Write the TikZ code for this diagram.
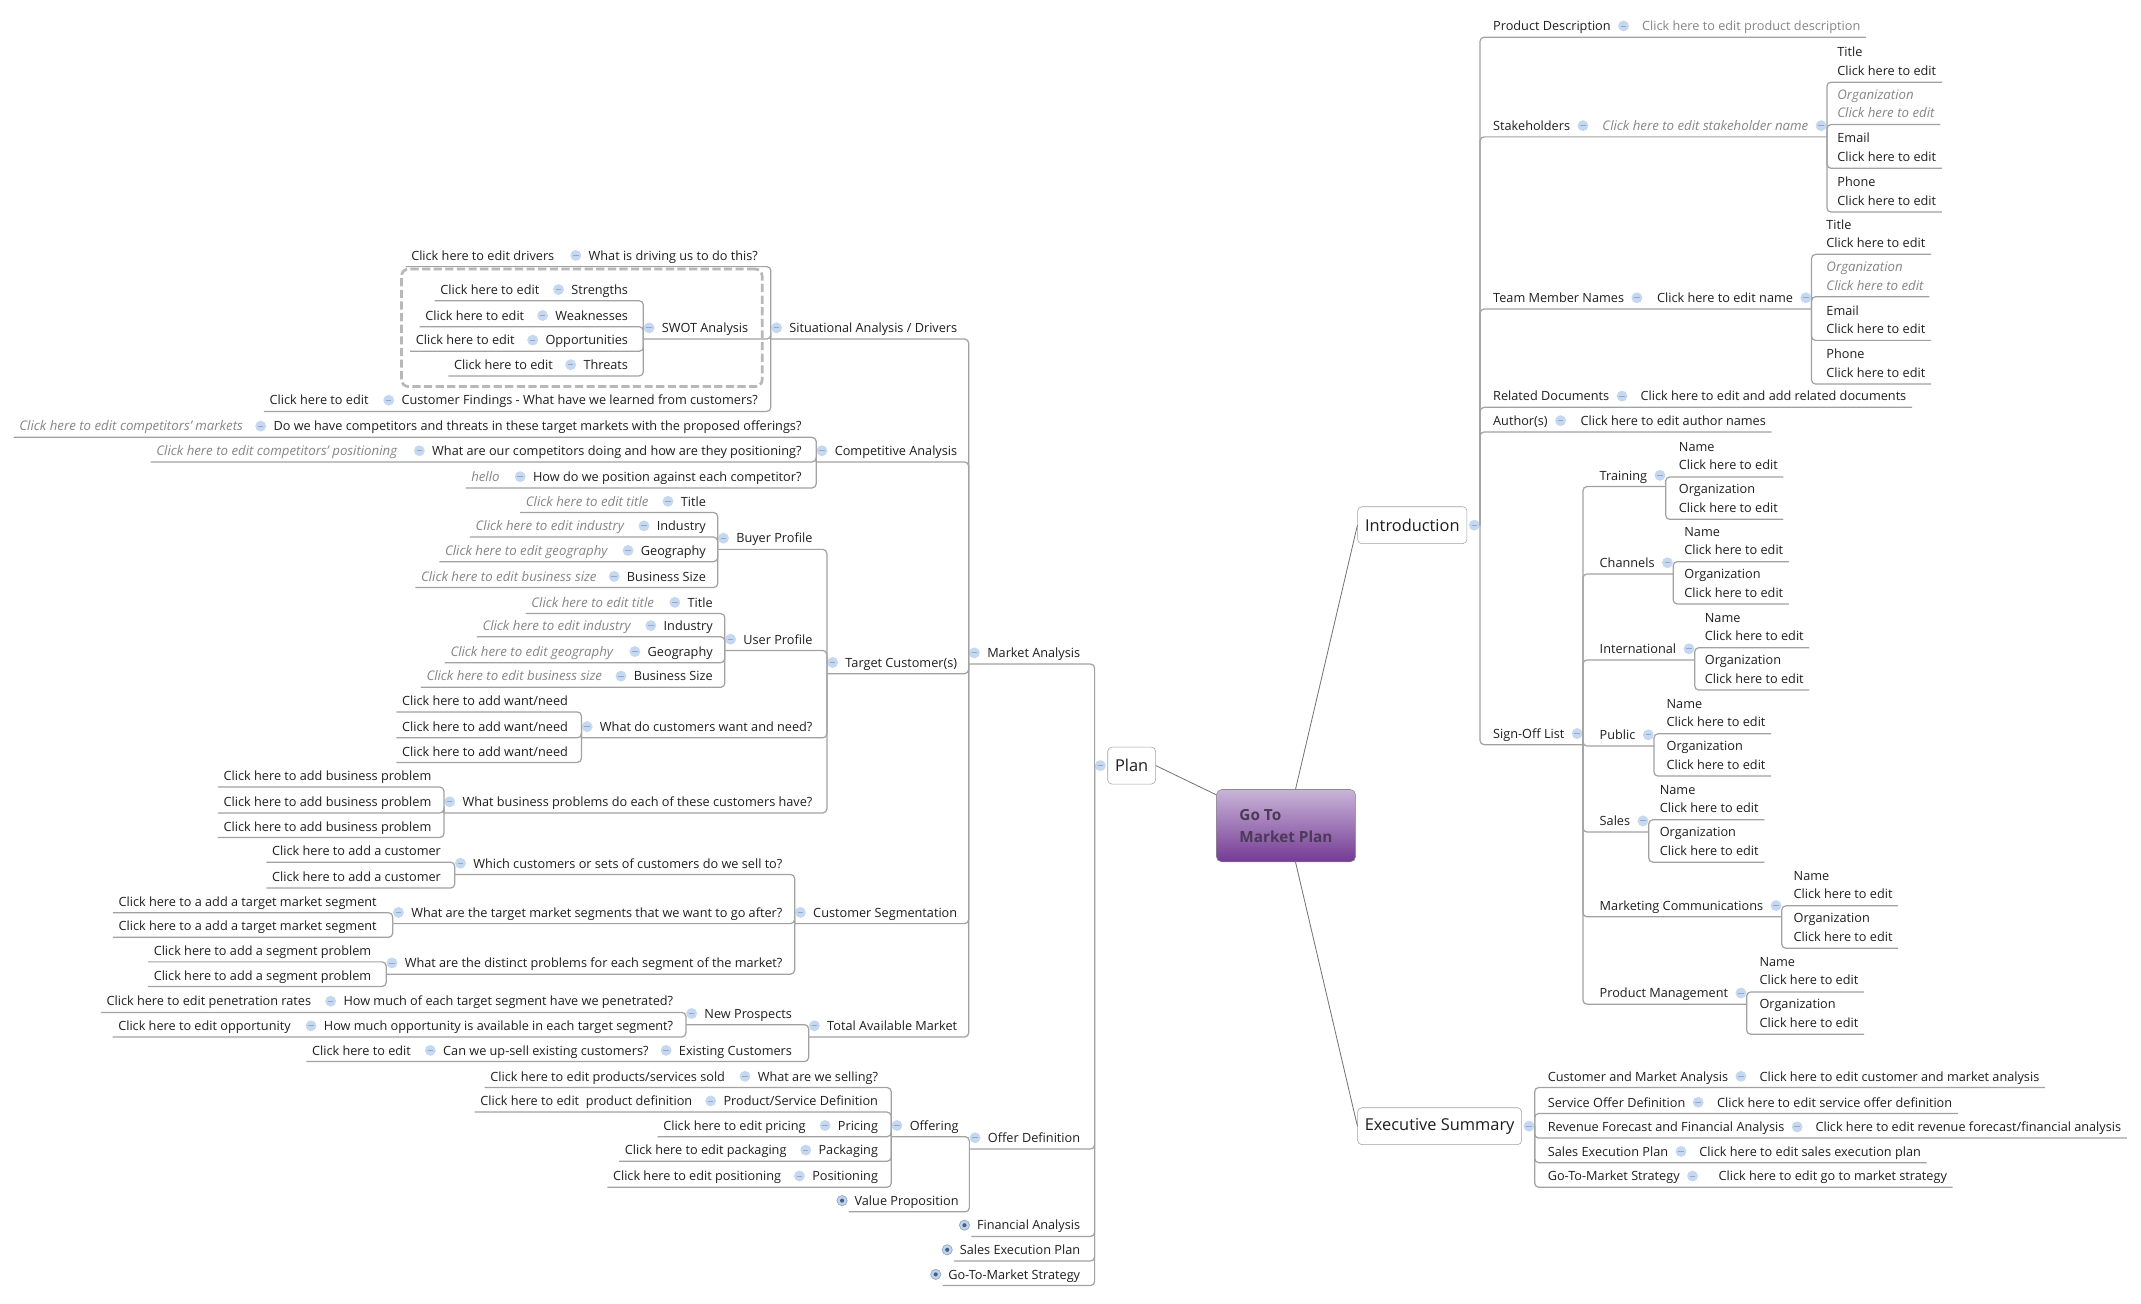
\documentclass[tikz,border=0pt]{standalone}
\usepackage{fontspec}
\setmainfont{Open Sans}
\definecolor{inkc}{HTML}{1E1E1E}
\definecolor{hintc}{HTML}{858585}
\definecolor{branchc}{HTML}{A2A2A2}
\definecolor{foldc}{HTML}{C6D8F0}
\definecolor{foldd}{HTML}{8FA9CF}
\definecolor{rootc}{HTML}{4B3A58}
\definecolor{rootup}{HTML}{C9B5D8}
\definecolor{rootdn}{HTML}{743A94}
\definecolor{plusc}{HTML}{C3D2E4}
\definecolor{plusd}{HTML}{3F5F8F}
\tikzset{
  leaf/.style={font=\fontsize{9.3}{11}\selectfont,text=inkc,inner xsep=4,inner ysep=3,text height=8.5,text depth=1.5},
  lnode/.style={leaf,anchor=east},
  rnode/.style={leaf,anchor=west},
  hint/.style={font=\fontsize{9.7}{11}\selectfont\itshape,text=hintc},
  pale/.style={text=hintc},
  pair/.style={font=\fontsize{9.3}{13.6}\selectfont,text=inkc,anchor=west,align=left,inner xsep=4,inner ysep=0,minimum height=30},
  pairhint/.style={pair,font=\fontsize{9.7}{13.6}\selectfont\itshape,text=hintc},
  box/.style={draw=branchc,fill=white,rounded corners=3,font=\fontsize{12}{14}\selectfont,text=inkc,inner sep=0,minimum height=27},
  fold/.style={circle,fill=foldc,inner sep=0,minimum size=8,label distance=1,
    path picture={\draw[foldd,line width=.6] ([xshift=-2]path picture bounding box.center)--([xshift=2]path picture bounding box.center);}},
  plus/.style={circle,fill=plusc,draw=foldd,line width=.5,inner sep=0,minimum size=7.5,label distance=1,
    path picture={\fill[plusd] (path picture bounding box.center) circle (1.5);}},
  foldl/.style={label={[fold,name=#1]left:{}}},
  foldr/.style={label={[fold,name=#1]right:{}}},
  plusl/.style={label={[plus,name=#1]left:{}}},
  branch/.style={draw=branchc,line width=.9,rounded corners=3},
  spoke/.style={draw=black!55,line width=.6},
  dashbox/.style={draw=black!28,line width=2,rounded corners=5,inner sep=0,minimum width=264,minimum height=86,dash pattern=on 6 off 2.5},
}
\newcommand{\busl}[1]{\coordinate (#1b) at (#1-i.west |- #1.south);}
\newcommand{\busr}[1]{\coordinate (#1b) at (#1-i.east |- #1.south);}
\begin{document}
\begin{tikzpicture}[x=1pt,y=-1pt]
  \useasboundingbox (0,0) rectangle (1567.5,954);

  % centre
  \node[rounded corners=4,draw=black!45,top color=rootup,bottom color=rootdn,minimum width=102,minimum height=53,inner sep=0,
    font=\fontsize{11.2}{16}\selectfont\bfseries,text=rootc,align=left] at (941.5,604.5) (root) {Go To\\Market Plan};
  \node[box,minimum width=35,foldl=plan-i] at (828.5,560.5) (plan) {Plan};
  \node[box,minimum width=80,foldr=intro-i] at (1034,384.5) (intro) {Introduction};
  \node[box,minimum width=120,foldr=exec-i] at (1054,824.5) (exec) {Executive Summary};
  \draw[spoke] ([yshift=-4]root.north west) -- (plan.east);
  \draw[spoke] ([xshift=7]root.north) -- (intro.west);
  \draw[spoke] ([xshift=7]root.south) -- (exec.west);
  \coordinate (planb) at (plan-i.west |- plan.center);
  \coordinate (introb) at (intro-i.east |- intro.center);
  \coordinate (execb) at (exec-i.east |- exec.center);

  % plan side
  \node[lnode,foldl=mkt-i] at (795,478) (mkt) {Market Analysis};
  \node[lnode,foldl=off-i] at (795,833) (off) {Offer Definition};
  \node[lnode,plusl=fin-i] at (795,897) (fin) {Financial Analysis};
  \node[lnode,plusl=salesp-i] at (795,915) (salesp) {Sales Execution Plan};
  \node[lnode,plusl=gtm-i] at (795,933) (gtm) {Go-To-Market Strategy};
  \busl{mkt} \busl{off}
  \foreach \k in {mktb,offb,fin.south west,salesp.south west,gtm.south west}
    \draw[branch] (planb) |- (\k);

  \node[lnode,foldl=sit-i] at (705,240) (sit) {Situational Analysis / Drivers};
  \node[lnode,foldl=comp-i] at (705,330) (comp) {Competitive Analysis};
  \node[lnode,foldl=target-i] at (705,485) (target) {Target Customer(s)};
  \node[lnode,foldl=seg-i] at (705,668) (seg) {Customer Segmentation};
  \node[lnode,foldl=tam-i] at (705,751) (tam) {Total Available Market};
  \busl{sit} \busl{comp} \busl{target} \busl{seg} \busl{tam}
  \foreach \k in {sitb,compb,targetb,segb,tamb}
    \draw[branch] (mktb) |- (\k);

  % situational analysis
  \node[lnode,foldl=drv-i] at (559,187) (drv) {What is driving us to do this?};
  \node[lnode] at (410,187) (kdrv) {Click here to edit drivers};
  \node[lnode,foldl=swot-i] at (552,240) (swot) {SWOT Analysis};
  \node[lnode,foldl=cust-i] at (559,293) (cust) {Customer Findings - What have we learned from customers?};
  \node[lnode] at (274,293) (kcust) {Click here to edit};
  \busl{swot}
  \foreach \k in {kdrv.south west,swotb,kcust.south west}
    \draw[branch] (sitb) |- (\k);
  \node[dashbox] at (426,240) (swotframe) {};
  \node[lnode,foldl=str-i] at (464,212) (str) {Strengths};
  \node[lnode] at (399,212) (kstr) {Click here to edit};
  \node[lnode,foldl=weak-i] at (464,231) (weak) {Weaknesses};
  \node[lnode] at (388,231) (kweak) {Click here to edit};
  \node[lnode,foldl=opp-i] at (464,249) (opp) {Opportunities};
  \node[lnode] at (381,249) (kopp) {Click here to edit};
  \node[lnode,foldl=thr-i] at (464,267) (thr) {Threats};
  \node[lnode] at (409,267) (kthr) {Click here to edit};
  \foreach \k in {kstr,kweak,kopp,kthr}
    \draw[branch] (swotb) |- (\k.south west);

  % competitive analysis
  \node[lnode,foldl=cm-i] at (591,312) (cm) {Do we have competitors and threats in these target markets with the proposed offerings?};
  \node[lnode,hint] at (182,312) (kcm) {Click here to edit competitors' markets};
  \node[lnode,foldl=cp-i] at (591,330) (cp) {What are our competitors doing and how are they positioning?};
  \node[lnode,hint] at (295,330) (kcp) {Click here to edit competitors' positioning};
  \node[lnode,foldl=ca-i] at (591,349) (ca) {How do we position against each competitor?};
  \node[lnode,hint] at (370,349) (kca) {hello};
  \foreach \k in {kcm,kcp,kca}
    \draw[branch] (compb) |- (\k.south west);

  % target customers
  \node[lnode,foldl=buyer-i] at (599,394) (buyer) {Buyer Profile};
  \node[lnode,foldl=user-i] at (599,468) (user) {User Profile};
  \node[lnode,foldl=want-i] at (599,532) (want) {What do customers want and need?};
  \node[lnode,foldl=biz-i] at (599,587) (biz) {What business problems do each of these customers have?};
  \busl{buyer} \busl{user} \busl{want} \busl{biz}
  \foreach \k in {buyerb,userb,wantb,bizb}
    \draw[branch] (targetb) |- (\k);

  \node[lnode,foldl=bt-i] at (521,367) (bt) {Title};
  \node[lnode,hint] at (479,367) (kbt) {Click here to edit title};
  \node[lnode,foldl=bi-i] at (521,385) (bi) {Industry};
  \node[lnode,hint] at (461,385) (kbi) {Click here to edit industry};
  \node[lnode,foldl=bg-i] at (521,403) (bg) {Geography};
  \node[lnode,hint] at (449,403) (kbg) {Click here to edit geography};
  \node[lnode,foldl=bs-i] at (521,422) (bs) {Business Size};
  \node[lnode,hint] at (441,422) (kbs) {Click here to edit business size};
  \foreach \k in {kbt,kbi,kbg,kbs}
    \draw[branch] (buyerb) |- (\k.south west);

  \node[lnode,foldl=ut-i] at (526,441) (ut) {Title};
  \node[lnode,hint] at (483,441) (kut) {Click here to edit title};
  \node[lnode,foldl=ui-i] at (526,458) (ui) {Industry};
  \node[lnode,hint] at (466,458) (kui) {Click here to edit industry};
  \node[lnode,foldl=ug-i] at (526,477) (ug) {Geography};
  \node[lnode,hint] at (453,477) (kug) {Click here to edit geography};
  \node[lnode,foldl=us-i] at (526,495) (us) {Business Size};
  \node[lnode,hint] at (445,495) (kus) {Click here to edit business size};
  \foreach \k in {kut,kui,kug,kus}
    \draw[branch] (userb) |- (\k.south west);

  \node[lnode] at (420,513) (w1) {Click here to add want/need};
  \node[lnode] at (420,532) (w2) {Click here to add want/need};
  \node[lnode] at (420,550) (w3) {Click here to add want/need};
  \foreach \k in {w1,w2,w3}
    \draw[branch] (wantb) |- (\k.south west);

  \node[lnode] at (320,568) (p1) {Click here to add business problem};
  \node[lnode] at (320,587) (p2) {Click here to add business problem};
  \node[lnode] at (320,605) (p3) {Click here to add business problem};
  \foreach \k in {p1,p2,p3}
    \draw[branch] (bizb) |- (\k.south west);

  % customer segmentation
  \node[lnode,foldl=which-i] at (577,632) (which) {Which customers or sets of customers do we sell to?};
  \node[lnode,foldl=mseg-i] at (577,668) (mseg) {What are the target market segments that we want to go after?};
  \node[lnode,foldl=dist-i] at (577,705) (dist) {What are the distinct problems for each segment of the market?};
  \busl{which} \busl{mseg} \busl{dist}
  \foreach \k in {whichb,msegb,distb}
    \draw[branch] (segb) |- (\k);
  \node[lnode] at (327,623) (c1) {Click here to add a customer};
  \node[lnode] at (327,642) (c2) {Click here to add a customer};
  \node[lnode] at (280,660) (m1) {Click here to a add a target market segment};
  \node[lnode] at (280,678) (m2) {Click here to a add a target market segment};
  \node[lnode] at (276,696) (d1) {Click here to add a segment problem};
  \node[lnode] at (276,714) (d2) {Click here to add a segment problem};
  \foreach \k in {c1,c2}
    \draw[branch] (whichb) |- (\k.south west);
  \foreach \k in {m1,m2}
    \draw[branch] (msegb) |- (\k.south west);
  \foreach \k in {d1,d2}
    \draw[branch] (distb) |- (\k.south west);

  % total available market
  \node[lnode,foldl=newp-i] at (584,742) (newp) {New Prospects};
  \node[lnode,foldl=exist-i] at (584,769) (exist) {Existing Customers};
  \node[lnode,foldl=upsell-i] at (479,769) (upsell) {Can we up-sell existing customers?};
  \node[lnode] at (305,769) (kupsell) {Click here to edit};
  \busl{newp}
  \foreach \k in {newpb,kupsell.south west}
    \draw[branch] (tamb) |- (\k);
  \node[lnode,foldl=pen-i] at (497,733) (pen) {How much of each target segment have we penetrated?};
  \node[lnode] at (232,733) (kpen) {Click here to edit penetration rates};
  \node[lnode,foldl=oppn-i] at (497,751) (oppn) {How much opportunity is available in each target segment?};
  \node[lnode] at (217,751) (koppn) {Click here to edit opportunity};
  \foreach \k in {kpen,koppn}
    \draw[branch] (newpb) |- (\k.south west);

  % offer definition
  \node[lnode,foldl=offer-i] at (706,824) (offer) {Offering};
  \node[lnode,plusl=valp-i] at (706,879) (valp) {Value Proposition};
  \busl{offer}
  \foreach \k in {offerb,valp.south west}
    \draw[branch] (offb) |- (\k);
  \node[lnode,foldl=os-i] at (647,788) (os) {What are we selling?};
  \node[lnode] at (535,788) (kos) {Click here to edit products/services sold};
  \node[lnode,foldl=od-i] at (647,806) (od) {Product/Service Definition};
  \node[lnode] at (511,806) (kod) {Click here to edit\ \ product definition};
  \node[lnode,foldl=opr-i] at (647,824) (opr) {Pricing};
  \node[lnode] at (594,824) (kopr) {Click here to edit pricing};
  \node[lnode,foldl=opk-i] at (647,842) (opk) {Packaging};
  \node[lnode] at (580,842) (kopk) {Click here to edit packaging};
  \node[lnode,foldl=ops-i] at (647,861) (ops) {Positioning};
  \node[lnode] at (576,861) (kops) {Click here to edit positioning};
  \foreach \k in {kos,kod,kopr,kopk,kops}
    \draw[branch] (offerb) |- (\k.south west);

  % introduction
  \node[rnode,foldr=prod-i] at (1089,19) (prod) {Product Description};
  \node[rnode,pale] at (1198,19) (kprod) {Click here to edit product description};
  \node[rnode,foldr=stk-i] at (1089,92) (stk) {Stakeholders};
  \node[rnode,hint,foldr=stkn-i] at (1169,92) (stkn) {Click here to edit stakeholder name};
  \node[rnode,foldr=team-i] at (1089,218) (team) {Team Member Names};
  \node[rnode,foldr=teamn-i] at (1209,218) (teamn) {Click here to edit name};
  \node[rnode,foldr=rel-i] at (1089,290) (rel) {Related Documents};
  \node[rnode] at (1197,290) (krel) {Click here to edit and add related documents};
  \node[rnode,foldr=auth-i] at (1089,308) (auth) {Author(s)};
  \node[rnode] at (1153,308) (kauth) {Click here to edit author names};
  \node[rnode,foldr=sign-i] at (1089,537) (sign) {Sign-Off List};
  \busr{stkn} \busr{teamn} \busr{sign}
  \foreach \k in {kprod.south east,stknb,teamnb,krel.south east,kauth.south east,signb}
    \draw[branch] (introb) |- (\k);

  \node[pair] at (1341,45) (st1) {Title\\Click here to edit};
  \node[pairhint] at (1341,76) (st2) {Organization\\Click here to edit};
  \node[pair] at (1341,108) (st3) {Email\\Click here to edit};
  \node[pair] at (1341,140) (st4) {Phone\\Click here to edit};
  \foreach \k in {st1,st2,st3,st4}
    \draw[branch] (stknb) |- (\k.south east);
  \node[pair] at (1333,171) (tm1) {Title\\Click here to edit};
  \node[pairhint] at (1333,202) (tm2) {Organization\\Click here to edit};
  \node[pair] at (1333,234) (tm3) {Email\\Click here to edit};
  \node[pair] at (1333,266) (tm4) {Phone\\Click here to edit};
  \foreach \k in {tm1,tm2,tm3,tm4}
    \draw[branch] (teamnb) |- (\k.south east);

  % sign-off list
  \node[rnode,foldr=train-i] at (1167,348) (train) {Training};
  \node[rnode,foldr=chan-i] at (1167,412) (chan) {Channels};
  \node[rnode,foldr=intl-i] at (1167,475) (intl) {International};
  \node[rnode,foldr=pub-i] at (1167,538) (pub) {Public};
  \node[rnode,foldr=sal-i] at (1167,601) (sal) {Sales};
  \node[rnode,foldr=mark-i] at (1167,663) (mark) {Marketing Communications};
  \node[rnode,foldr=pm-i] at (1167,727) (pm) {Product Management};
  \busr{train} \busr{chan} \busr{intl} \busr{pub} \busr{sal} \busr{mark} \busr{pm}
  \foreach \k in {trainb,chanb,intlb,pubb,salb,markb,pmb}
    \draw[branch] (signb) |- (\k);
  \foreach \g/\x/\ya/\yb in {train/1225/334/365,chan/1229/396/427,intl/1244/459/490,pub/1216/522/553,sal/1211/585/616,mark/1309/648/679,pm/1284/711/742}{
    \node[pair] at (\x,\ya) (\g1) {Name\\Click here to edit};
    \node[pair] at (\x,\yb) (\g2) {Organization\\Click here to edit};
    \draw[branch] (\g b) |- (\g1.south east);
    \draw[branch] (\g b) |- (\g2.south east);
  }

  % executive summary
  \node[rnode,foldr=em-i] at (1129,788) (em) {Customer and Market Analysis};
  \node[rnode] at (1284,788) (kem) {Click here to edit customer and market analysis};
  \node[rnode,foldr=es-i] at (1129,807) (es) {Service Offer Definition};
  \node[rnode] at (1253,807) (kes) {Click here to edit service offer definition};
  \node[rnode,foldr=er-i] at (1129,825) (er) {Revenue Forecast and Financial Analysis};
  \node[rnode] at (1325,825) (ker) {Click here to edit revenue forecast/financial analysis};
  \node[rnode,foldr=ep-i] at (1129,843) (ep) {Sales Execution Plan};
  \node[rnode] at (1240,843) (kep) {Click here to edit sales execution plan};
  \node[rnode,foldr=eg-i] at (1129,861) (eg) {Go-To-Market Strategy};
  \node[rnode] at (1254,861) (keg) {Click here to edit go to market strategy};
  \foreach \k in {kem,kes,ker,kep,keg}
    \draw[branch] (execb) |- (\k.south east);
\end{tikzpicture}
\end{document}
